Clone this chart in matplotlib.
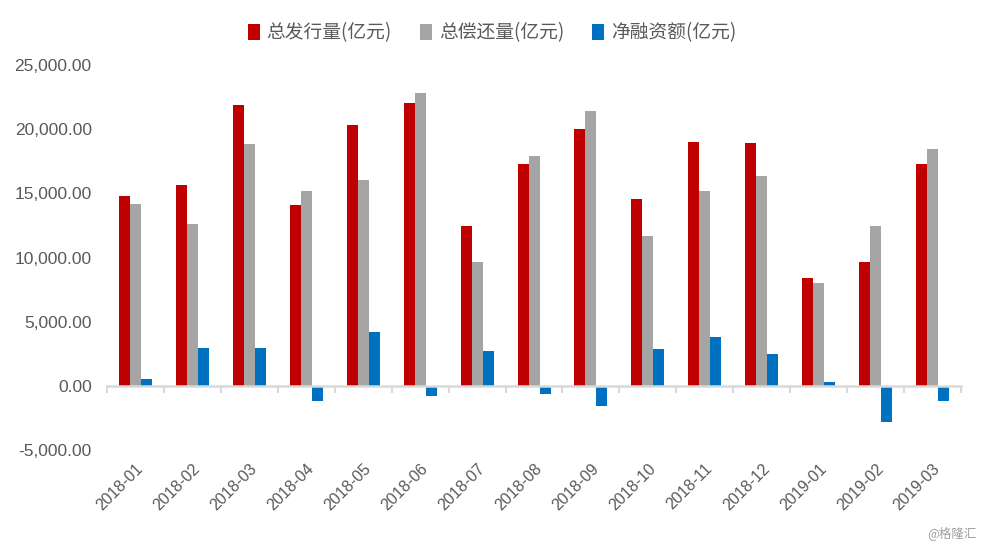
import matplotlib
matplotlib.use('Agg')
import matplotlib.pyplot as plt
import numpy as np

plt.rcParams['font.family'] = ['Liberation Sans', 'Noto Sans CJK SC', 'DejaVu Sans']

months = ['2018-01', '2018-02', '2018-03', '2018-04', '2018-05', '2018-06', '2018-07',
          '2018-08', '2018-09', '2018-10', '2018-11', '2018-12', '2019-01', '2019-02', '2019-03']
issue = [14800, 15660, 21890, 14100, 20330, 22050, 12460, 17290, 20020, 14570,
         19010, 18930, 8410, 9660, 17290]
repay = [14180, 12620, 18850, 15190, 16050, 22830, 9660, 17920, 21420, 11690,
         15190, 16360, 8020, 12460, 18460]
net = [560, 2960, 2980, -1150, 4200, -830, 2730, -640, -1560, 2880,
       3820, 2490, 310, -2800, -1150]
series_names = ['总发行量(亿元)', '总偿还量(亿元)', '净融资额(亿元)']
colors = ['#c00000', '#a5a5a5', '#0070c0']

fig = plt.figure(figsize=(9.84, 5.48), dpi=100)
ax = fig.add_axes([0.1087, 0.1788, 0.868, 0.7026])

x = np.arange(len(months))
w = 0.193
for i, (vals, name, c) in enumerate(zip([issue, repay, net], series_names, colors)):
    ax.bar(x + (i - 1) * w, vals, width=w, color=c, label=name, zorder=2)

ax.set_xlim(-0.5, len(months) - 0.5)
ax.set_ylim(-5000, 25000)
ax.set_yticks(np.arange(-5000, 25001, 5000))
ax.yaxis.set_major_formatter(matplotlib.ticker.FuncFormatter(lambda v, p: f'{v:,.2f}'))
ax.tick_params(axis='y', length=0, pad=11, labelsize=12.5, labelcolor='#595959')

for s in ['top', 'right', 'left']:
    ax.spines[s].set_visible(False)
# zero line with small category separator ticks
ax.spines['bottom'].set_position(('data', 0))
ax.spines['bottom'].set_color('#d9d9d9')
ax.spines['bottom'].set_linewidth(1.8)
ax.set_xticks(np.arange(-0.5, len(months), 1.0), minor=True)
ax.set_xticks([])
ax.tick_params(axis='x', which='minor', length=5, width=1.5, color='#d9d9d9', direction='out')

secax = ax.secondary_xaxis(0.0)
secax.set_xticks(x, labels=months, rotation=45, ha='right', va='top', rotation_mode='anchor')
secax.tick_params(length=0, pad=8, labelsize=11.5, labelcolor='#595959')
secax.spines['bottom'].set_visible(False)

leg = fig.legend(loc='upper center', bbox_to_anchor=(0.5, 0.99), ncol=3, frameon=False,
                 handlelength=0.65, handleheight=0.9, handletextpad=0.35, columnspacing=1.5,
                 prop={'family': ['Noto Sans CJK SC'], 'size': 13.5})
for t in leg.get_texts():
    t.set_color('#595959')

fig.text(0.993, 0.015, '@格隆汇', ha='right', va='bottom', fontsize=9, color='#a0a0a0',
         family=['Noto Sans CJK SC'])

fig.savefig('out.png', dpi=100)
